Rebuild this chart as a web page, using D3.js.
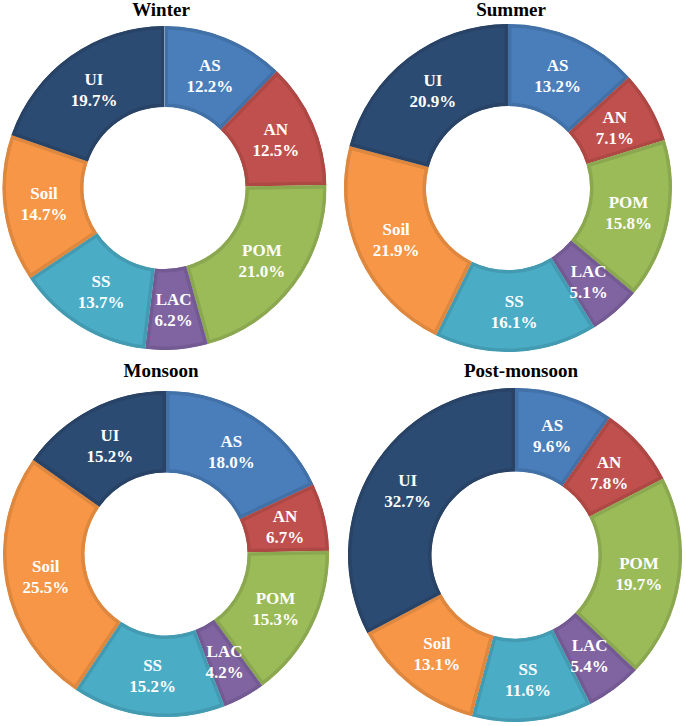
<!DOCTYPE html>
<html>
<head>
<meta charset="utf-8">
<script src="https://cdn.jsdelivr.net/npm/d3@7"></script>
<style>
  html, body { margin: 0; padding: 0; background: #fff; }
  svg { display: block; }
</style>
</head>
<body>
<div id="chart"></div>
<script>
// ---- Data ----
const categories = ["AS", "AN", "POM", "LAC", "SS", "Soil", "UI"];
const seasons = ["Winter", "Summer", "Monsoon", "Post-monsoon"];
const winterValues      = [12.2, 12.5, 21.0, 6.2, 13.7, 14.7, 19.7];
const summerValues      = [13.2, 7.1, 15.8, 5.1, 16.1, 21.9, 20.9];
const monsoonValues     = [18.0, 6.7, 15.3, 4.2, 15.2, 25.5, 15.2];
const postMonsoonValues = [9.6, 7.8, 19.7, 5.4, 11.6, 13.1, 32.7];
const seriesValues = [winterValues, summerValues, monsoonValues, postMonsoonValues];
const colors = ["#4A7EBB", "#C0504D", "#9BBB59", "#8064A2", "#4BACC6", "#F79646", "#2C4B72"];

// ---- Layout ----
const W = 685, H = 726;
const panels = [
  { cx: 164.5, cy: 188, r: 162, tx: 161, ty: 16 },
  { cx: 508,   cy: 188, r: 164, tx: 511, ty: 16 },
  { cx: 166,   cy: 554, r: 163, tx: 161, ty: 377 },
  { cx: 515,   cy: 555, r: 167, tx: 521, ty: 377 }
];

const svg = d3.select("#chart").append("svg")
  .attr("width", W).attr("height", H);
const defs = svg.append("defs");

const pie = d3.pie().value(d => d.value).sort(null);
const color = d3.scaleOrdinal().domain(categories).range(colors);

seriesValues.forEach((vals, si) => {
  const p = panels[si];
  const data = categories.map((c, i) => ({ name: c, value: vals[i] }));
  const arcs = pie(data);
  const arc = d3.arc().innerRadius(p.r * 0.5).outerRadius(p.r);
  const g = svg.append("g").attr("transform", `translate(${p.cx},${p.cy})`);

  arcs.forEach((a, i) => {
    const id = `clip-${si}-${i}`;
    defs.append("clipPath").attr("id", id)
      .append("path").attr("d", arc(a));
    const base = d3.color(color(a.data.name));
    g.append("path")
      .attr("d", arc(a))
      .attr("fill", base.formatHex())
      .attr("stroke", base.darker(0.3).formatHex())
      .attr("stroke-width", 7)
      .attr("stroke-linejoin", "miter")
      .attr("clip-path", `url(#${id})`);
  });

  // labels
  arcs.forEach(a => {
    const [x, y] = arc.centroid(a);
    const t = g.append("text")
      .attr("x", x).attr("y", y)
      .attr("text-anchor", "middle")
      .attr("font-family", "'Liberation Serif', 'Times New Roman', serif")
      .attr("font-weight", "bold")
      .attr("font-size", 17)
      .attr("fill", "#fff");
    t.append("tspan").attr("x", x).attr("dy", "-0.25em").text(a.data.name);
    t.append("tspan").attr("x", x).attr("dy", "1.24em").text(a.data.value.toFixed(1) + "%");
  });

  svg.append("text")
    .attr("x", p.tx).attr("y", p.ty)
    .attr("text-anchor", "middle")
    .attr("font-family", "'Liberation Serif', 'Times New Roman', serif")
    .attr("font-weight", "bold")
    .attr("font-size", 19)
    .attr("fill", "#000")
    .text(seasons[si]);
});
</script>
</body>
</html>
